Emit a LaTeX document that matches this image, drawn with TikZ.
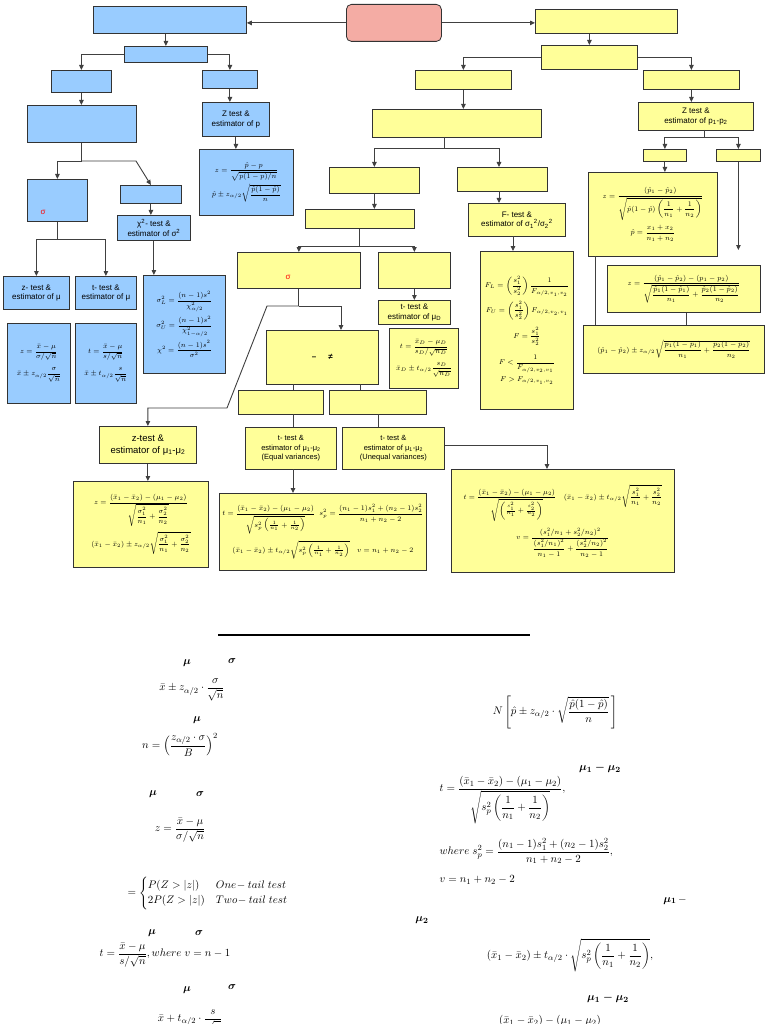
\documentclass[tikz,border=0pt]{standalone}
\usepackage{amsmath}
\usepackage{fontspec}
\setmainfont{Liberation Sans}
\usetikzlibrary{arrows.meta}
\definecolor{bl}{HTML}{99CCFF}
\definecolor{yl}{HTML}{FFFF99}
\definecolor{pk}{HTML}{F4ACA4}
\newcommand\bx[7]{\node[#6,anchor=north west,minimum width={(#4-#2)*1pt},minimum height={(#5-#3)*1pt}] (#1) at (#2,#3) {#7};}
\newcommand\fs{\fontsize{8}{9.5}\selectfont}
\newcommand\fm{\fontsize{7.5}{9}\selectfont}
\begin{document}
\begin{tikzpicture}[x=1pt,y=-1pt,
  box/.style={draw=black!80,line width=0.8pt,inner sep=1pt,align=center,font=\fs},
  bbox/.style={box,fill=bl},
  ybox/.style={box,fill=yl},
  fbb/.style={bbox,font=\fm},
  fyb/.style={ybox,font=\fm},
  arr/.style={draw=black!75,line width=0.9pt,-{Triangle[length=5pt,width=4.5pt]}},
  ln/.style={draw=black!75,line width=0.9pt},
  bsym/.style={font=\bfseries\fontsize{11}{13}\selectfont}]
\useasboundingbox (0,0) rectangle (768,1024);
\fill[white] (0,0) rectangle (768,1024);
% root
\node[draw=black!80,line width=0.8pt,fill=pk,rounded corners=5pt,anchor=north west,minimum width=95pt,minimum height=37pt] (root) at (346,4) {};
% blue side
\bx{B0}{93}{6}{246}{33}{bbox}{}
\bx{B1}{124}{46}{207}{62}{bbox}{}
\bx{B2L}{51}{70}{111}{92}{bbox}{}
\bx{B2R}{202}{70}{257}{88}{bbox}{}
\bx{B3}{27}{105}{136}{142}{bbox}{}
\bx{Zp}{202}{102}{269}{136}{bbox}{Z test \&\\estimator of p}
\bx{Zpf}{199}{149}{293}{215}{fbb}{$z=\dfrac{\hat p-p}{\sqrt{p(1-p)/n}}$\\[2pt]$\hat p\pm z_{\alpha/2}\sqrt{\dfrac{\hat p(1-\hat p)}{n}}$}
\bx{Bsig}{27}{179}{87}{221}{bbox}{}
\node[text=red,font=\fs] at (43,212) {σ};
\bx{Bc0}{120}{185}{181}{203}{bbox}{}
\bx{chi}{117}{215}{190}{240}{bbox}{χ\textsuperscript{2}- test \&\\estimator of σ\textsuperscript{2}}
\bx{zt}{3}{276}{69}{309}{bbox}{z- test \&\\estimator of μ}
\bx{tt}{75}{276}{136}{309}{bbox}{t- test \&\\estimator of μ}
\bx{zf}{7}{323}{70}{403}{fbb}{$z=\dfrac{\bar x-\mu}{\sigma/\sqrt n}$\\[6pt]$\bar x\pm z_{\alpha/2}\dfrac{\sigma}{\sqrt n}$}
\bx{tf}{75}{323}{136}{403}{fbb}{$t=\dfrac{\bar x-\mu}{s/\sqrt n}$\\[6pt]$\bar x\pm t_{\alpha/2}\dfrac{s}{\sqrt n}$}
\bx{chf}{143}{275}{225}{373}{fbb}{$\sigma^2_L=\dfrac{(n-1)s^2}{\chi^2_{\alpha/2}}$\\[3pt]$\sigma^2_U=\dfrac{(n-1)s^2}{\chi^2_{1-\alpha/2}}$\\[3pt]$\chi^2=\dfrac{(n-1)s^2}{\sigma^2}$}
% yellow side
\bx{Y0}{535}{9}{677}{33}{ybox}{}
\bx{Y1}{541}{45}{637}{69}{ybox}{}
\bx{Y2L}{415}{70}{511}{89}{ybox}{}
\bx{Y2R}{643}{70}{739}{89}{ybox}{}
\bx{Y3}{372}{109}{541}{137}{ybox}{}
\bx{Zpp}{638}{102}{753}{130}{ybox}{Z test \&\\estimator of p\textsubscript{1}-p\textsubscript{2}}
\bx{Y4L}{329}{167}{419}{193}{ybox}{}
\bx{Y4R}{457}{167}{547}{191}{ybox}{}
\bx{Ft}{468}{203}{565}{236}{ybox}{F- test \&\\estimator of σ\textsubscript{1}\textsuperscript{2}/σ\textsubscript{2}\textsuperscript{2}}
\bx{Ff}{480}{251}{573}{409}{fyb}{$F_L=\left(\dfrac{s_1^2}{s_2^2}\right)\dfrac{1}{F_{\alpha/2,v_1,v_2}}$\\[4pt]$F_U=\left(\dfrac{s_1^2}{s_2^2}\right)F_{\alpha/2,v_2,v_1}$\\[6pt]$F=\dfrac{s_1^2}{s_2^2}$\\[8pt]$F<\dfrac{1}{F_{\alpha/2,v_2,v_1}}$\\[3pt]$F>F_{\alpha/2,v_1,v_2}$}
\bx{Y5}{305}{209}{414}{228}{ybox}{}
\bx{S1}{643}{149}{686}{161}{ybox}{}
\bx{S2}{716}{149}{760}{161}{ybox}{}
\bx{P1}{588}{172}{717}{256}{fyb}{$z=\dfrac{(\hat p_1-\hat p_2)}{\sqrt{\hat p(1-\hat p)\left(\dfrac{1}{n_1}+\dfrac{1}{n_2}\right)}}$\\[4pt]$\hat p=\dfrac{x_1+x_2}{n_1+n_2}$}
\bx{P2}{607}{265}{760}{312}{fyb}{$z=\dfrac{(\hat p_1-\hat p_2)-(p_1-p_2)}{\sqrt{\dfrac{\hat p_1(1-\hat p_1)}{n_1}+\dfrac{\hat p_2(1-\hat p_2)}{n_2}}}$}
\bx{P3}{583}{325}{764}{373}{fyb}{$(\hat p_1-\hat p_2)\pm z_{\alpha/2}\sqrt{\dfrac{\hat p_1(1-\hat p_1)}{n_1}+\dfrac{\hat p_2(1-\hat p_2)}{n_2}}$}
\bx{Ysig}{237}{252}{360}{288}{ybox}{}
\node[text=red,font=\fs] at (288,277) {σ};
\bx{Yr}{378}{252}{450}{288}{ybox}{}
\bx{tD}{378}{300}{450}{324}{ybox}{t- test \&\\estimator of μ\textsubscript{D}}
\bx{tDf}{389}{328}{458}{388}{fyb}{$t=\dfrac{\bar x_D-\mu_D}{s_D/\sqrt{n_D}}$\\[5pt]$\bar x_D\pm t_{\alpha/2}\dfrac{s_D}{\sqrt{n_D}}$}
\bx{Yn}{266}{330}{378}{384}{ybox}{\bfseries –\hspace{12pt}≠}
\bx{Ye}{238}{390}{323}{414}{ybox}{}
\bx{Yu}{329}{390}{426}{414}{ybox}{}
\bx{zz}{99}{426}{196}{463}{ybox,font=\fontsize{9.5}{12}\selectfont}{z-test \&\\estimator of μ\textsubscript{1}-μ\textsubscript{2}}
\bx{tE}{245}{427}{336}{469}{ybox,font=\fontsize{7.5}{9.5}\selectfont}{t- test \&\\estimator of μ\textsubscript{1}-μ\textsubscript{2}\\(Equal variances)}
\bx{tU}{342}{427}{444}{469}{ybox,font=\fontsize{7.5}{9.5}\selectfont}{t- test \&\\estimator of μ\textsubscript{1}-μ\textsubscript{2}\\(Unequal variances)}
\bx{zzf}{73}{481}{208}{567}{fyb}{$z=\dfrac{(\bar x_1-\bar x_2)-(\mu_1-\mu_2)}{\sqrt{\dfrac{\sigma_1^2}{n_1}+\dfrac{\sigma_2^2}{n_2}}}$\\[4pt]$(\bar x_1-\bar x_2)\pm z_{\alpha/2}\sqrt{\dfrac{\sigma_1^2}{n_1}+\dfrac{\sigma_2^2}{n_2}}$}
\bx{tEf}{219}{493}{426}{570}{fyb}{$t=\dfrac{(\bar x_1-\bar x_2)-(\mu_1-\mu_2)}{\sqrt{s_p^2\left(\frac{1}{n_1}+\frac{1}{n_2}\right)}}\ \ s_p^2=\dfrac{(n_1-1)s_1^2+(n_2-1)s_2^2}{n_1+n_2-2}$\\[6pt]$(\bar x_1-\bar x_2)\pm t_{\alpha/2}\sqrt{s_p^2\left(\frac{1}{n_1}+\frac{1}{n_2}\right)}\quad v=n_1+n_2-2$}
\bx{tUf}{451}{469}{674}{572}{fyb}{$t=\dfrac{(\bar x_1-\bar x_2)-(\mu_1-\mu_2)}{\sqrt{\left(\frac{s_1^2}{n_1}+\frac{s_2^2}{n_2}\right)}}\quad(\bar x_1-\bar x_2)\pm t_{\alpha/2}\sqrt{\dfrac{s_1^2}{n_1}+\dfrac{s_2^2}{n_2}}$\\[6pt]$v=\dfrac{(s_1^2/n_1+s_2^2/n_2)^2}{\dfrac{(s_1^2/n_1)^2}{n_1-1}+\dfrac{(s_2^2/n_2)^2}{n_2-1}}$\hspace{90pt}}
% connectors blue
\draw[arr] (root.west) -- (root.west -| B0.east);
\draw[arr] (root.east) -- (root.east -| Y0.west);
\draw[arr] (B1.north |- B0.south) -- (B1.north);
\draw[arr] (B1.west) -| (B2L.north);
\draw[arr] (B1.east) -| (B2R.north);
\draw[arr] (B2L.south) -- (B2L.south |- B3.north);
\draw[arr] (B2R.south) -- (B2R.south |- Zp.north);
\draw[arr] (Zp.south) -- (Zp.south |- Zpf.north);
\coordinate (j1) at (B3.south |- 0,161);
\draw[ln] (B3.south) -- (j1);
\draw[arr] (j1) -| (Bsig.north);
\draw[arr] (j1) -- (136,161) -- (Bc0.north);
\draw[arr] (Bc0.south) -- (Bc0.south |- chi.north);
\draw[arr] (chi.south) -- (chi.south |- chf.north);
\coordinate (j2) at (Bsig.south |- 0,239);
\draw[ln] (Bsig.south) -- (j2);
\draw[arr] (j2) -| (zt.north);
\draw[arr] (j2) -| (tt.north);
% yellow
\draw[arr] (Y1.north |- Y0.south) -- (Y1.north);
\draw[arr] (Y1.west) -| (Y2L.north);
\draw[arr] (Y1.east) -| (Y2R.north);
\draw[arr] (Y2L.south) -- (Y2L.south |- Y3.north);
\draw[arr] (Y2R.south) -- (Y2R.south |- Zpp.north);
\coordinate (j3) at (444,148);
\draw[ln] (444,137) -- (j3);
\draw[arr] (j3) -| (Y4L.north);
\draw[arr] (j3) -| (499,167);
\draw[arr] (Y4L.south) -- (Y4L.south |- Y5.north);
\draw[arr] (499,191) -- (Ft.north -| 499,0);
\draw[arr] (513,236) -- (Ff.north -| 513,0);
\coordinate (j4) at (Y5.south |- 0,246);
\draw[ln] (Y5.south) -- (j4);
\draw[arr] (j4) -| (Ysig.north);
\draw[arr] (j4) -| (Yr.north);
\draw[arr] (Yr.south) -- (Yr.south |- tD.north);
\coordinate (j5) at (704,137);
\draw[ln] (704,130) -- (j5);
\draw[arr] (j5) -| (S1.north);
\draw[arr] (j5) -| (S2.north);
\draw[arr] (S1.south) -- (S1.south |- P1.north);
\draw[arr] (S2.south) -- (S2.south |- 0,250);
\draw[ln] (595,256) -- (595,325);
\draw[ln] (P2.south -| 686,0) -- (686,325);
\coordinate (j6) at (Ysig.south |- 0,306);
\draw[ln] (Ysig.south) -- (j6);
\draw[arr] (j6) -| (341,330);
\draw[arr] (j6) -- (267,306) -- (227,408) -| (zz.north);
\draw[ln] (293,384) -- (293,390);
\draw[ln] (360,384) -- (360,390);
\draw[ln] (293,414) -- (293,427);
\draw[ln] (378,414) -- (378,427);
\draw[arr] (293,469) -- (293,493);
\draw[arr] (tU.east |- 0,445) -| (tUf.north -| 547,0);
\draw[arr] (zz.south) -- (zz.south |- zzf.north);
% bottom part
\draw[line width=2pt] (218,635) coordinate (l1) -- (530,635) coordinate (l2);
\begin{scope}[every node/.style={font=\fontsize{11}{13}\selectfont}]
\node[bsym] at (187,663) {$\boldsymbol\mu$}; \node[bsym] at (232,661) {$\boldsymbol\sigma$};
\node at (192,690) {$\bar x\pm z_{\alpha/2}\cdot\dfrac{\sigma}{\sqrt n}$};
\node[bsym] at (197,720) {$\boldsymbol\mu$};
\node at (180,745) {$n=\left(\dfrac{z_{\alpha/2}\cdot\sigma}{B}\right)^2$};
\node[bsym] at (153,794) {$\boldsymbol\mu$}; \node[bsym] at (200,794) {$\boldsymbol\sigma$};
\node at (180,830) {$z=\dfrac{\bar x-\mu}{\sigma/\sqrt n}$};
\node[anchor=west] at (124,893) {$=\begin{cases}P(Z>|z|) & \mathnormal{One\!-tail\ test}\\ 2P(Z>|z|) & \mathnormal{Two\!-tail\ test}\end{cases}$};
\node[bsym] at (152,933) {$\boldsymbol\mu$}; \node[bsym] at (199,933) {$\boldsymbol\sigma$};
\node[anchor=west] at (96,955) {$t=\dfrac{\bar x-\mu}{s/\sqrt n},\mathnormal{where}\ v=n-1$};
\node[bsym] at (187,990) {$\boldsymbol\mu$}; \node[bsym] at (232,987) {$\boldsymbol\sigma$};
\node[anchor=north] at (190,1006) {$\bar x+t_{\alpha/2}\cdot\dfrac{s}{\sqrt n}$};
\node at (555,712) {$N\left[\hat p\pm z_{\alpha/2}\cdot\sqrt{\dfrac{\hat p(1-\hat p)}{n}}\,\right]$};
\node[bsym] at (600,768) {$\boldsymbol{\mu_1-\mu_2}$};
\node[anchor=west] at (436,800) {$t=\dfrac{(\bar x_1-\bar x_2)-(\mu_1-\mu_2)}{\sqrt{s_p^2\left(\dfrac{1}{n_1}+\dfrac{1}{n_2}\right)}},$};
\node[anchor=west] at (436,851) {$\mathnormal{where}\ s_p^2=\dfrac{(n_1-1)s_1^2+(n_2-1)s_2^2}{n_1+n_2-2},$};
\node[anchor=west] at (436,880) {$v=n_1+n_2-2$};
\node[bsym] at (675,900) {$\boldsymbol{\mu_1}\,-$};
\node[bsym] at (422,920) {$\boldsymbol{\mu_2}$};
\node at (570,955) {$(\bar x_1-\bar x_2)\pm t_{\alpha/2}\cdot\sqrt{s_p^2\left(\dfrac{1}{n_1}+\dfrac{1}{n_2}\right)},$};
\node[bsym] at (608,998) {$\boldsymbol{\mu_1-\mu_2}$};
\node[anchor=north] at (550,1012) {$(\bar x_1-\bar x_2)-(\mu_1-\mu_2)$};
\end{scope}
\end{tikzpicture}
\end{document}
